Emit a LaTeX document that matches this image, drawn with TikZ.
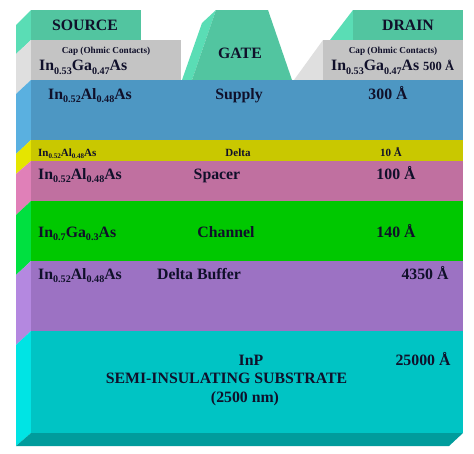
\documentclass[tikz,border=0pt]{standalone}
\usepackage{fontspec}
\setmainfont{Liberation Serif}
\usetikzlibrary{positioning}
\definecolor{metalF}{HTML}{52C5A0}
\definecolor{metalS}{HTML}{5ADDB5}
\definecolor{capF}{HTML}{C4C4C4}
\definecolor{capS}{HTML}{DFDFDF}
\definecolor{supplyF}{HTML}{4D97C3}
\definecolor{supplyS}{HTML}{5AB0E0}
\definecolor{deltaF}{HTML}{C9C800}
\definecolor{deltaS}{HTML}{E5E500}
\definecolor{spacerF}{HTML}{C070A0}
\definecolor{spacerS}{HTML}{E080B8}
\definecolor{channelF}{HTML}{00C800}
\definecolor{channelS}{HTML}{00E040}
\definecolor{bufferF}{HTML}{9C72C3}
\definecolor{bufferS}{HTML}{B488E0}
\definecolor{substrateF}{HTML}{00C4C4}
\definecolor{substrateS}{HTML}{00E4E4}
\definecolor{substrateB}{HTML}{009C9C}
\definecolor{inkc}{HTML}{10102A}
\newcommand{\mol}[1]{\raisebox{-0.22em}{\scalebox{0.64}{#1}}}
\tikzset{
  lbl/.style={text=inkc,font=\bfseries\fontsize{15.8}{18}\selectfont,inner sep=0pt,anchor=base},
  lblsmall/.style={lbl,font=\bfseries\fontsize{11}{12}\selectfont},
  lbltiny/.style={lbl,font=\bfseries\fontsize{9.2}{10}\selectfont},
}
\begin{document}
\begin{tikzpicture}[x=1pt,y=-1pt]
  \useasboundingbox (0,0) rectangle (474,453);
  % contacts
  \fill[metalS] (16,25) -- (31,10) -- (31,40) -- (16,54) -- cycle;
  \fill[metalF] (31,10) rectangle (141,40);
  \fill[metalS] (182,80) -- (202,23) -- (216,10) -- (192,80) -- cycle;
  \fill[metalF] (216,10) -- (268,10) -- (292,80) -- (192,80) -- cycle;
  \fill[metalS] (330,40) -- (353,10) -- (353,40) -- cycle;
  \fill[metalF] (353,10) rectangle (463,40);
  % caps
  \fill[capS] (16,54) -- (31,40) -- (31,80) -- (16,94) -- cycle;
  \fill[capF] (31,40) rectangle (181,80);
  \fill[capS] (294,80) -- (323,40) -- (323,80) -- cycle;
  \fill[capF] (323,40) rectangle (463,80);
  % layers
  \fill[supplyS] (16,94) -- (31,80) -- (31,140) -- (16,154) -- cycle;
  \fill[supplyF] (31,80) rectangle (463,140);
  \fill[deltaS] (16,154) -- (31,140) -- (31,161) -- (16,174) -- cycle;
  \fill[deltaF] (31,140) rectangle (463,161);
  \fill[spacerS] (16,174) -- (31,161) -- (31,201) -- (16,215) -- cycle;
  \fill[spacerF] (31,161) rectangle (463,201);
  \fill[channelS] (16,215) -- (31,201) -- (31,261) -- (16,275) -- cycle;
  \fill[channelF] (31,201) rectangle (463,261);
  \fill[bufferS] (16,275) -- (31,261) -- (31,331) -- (16,345) -- cycle;
  \fill[bufferF] (31,261) rectangle (463,331);
  \fill[substrateS] (16,345) -- (31,331) -- (31,433) -- (16,446) -- cycle;
  \fill[substrateF] (31,331) rectangle (463,433);
  \fill[substrateB] (16,446) -- (31,433) -- (463,433) -- (449,446) -- cycle;
  % labels
  \node[lbl] (source) at (85,30.3) {SOURCE};
  \node[lbl] (gate) at (240,58.7) {GATE};
  \node[lbl] (drain) at (408,30.3) {DRAIN};
  \node[lbltiny] (capl) at (106,53.5) {Cap (Ohmic Contacts)};
  \node[lbl,anchor=base west] (capml) at (39,70.7) {In\mol{0.53}Ga\mol{0.47}As};
  \node[lbltiny] (capr) at (393,53.5) {Cap (Ohmic Contacts)};
  \node[lbl,anchor=base west] (capmr) at (331,70.7) {In\mol{0.53}Ga\mol{0.47}As \fontsize{12.5}{14}\selectfont 500 Å};
  \node[lbl,anchor=base west] (supm) at (48,99.3) {In\mol{0.52}Al\mol{0.48}As};
  \node[lbl] (sup) at (239,99.3) {Supply};
  \node[lbl] (supt) at (388,99.3) {300 Å};
  \node[lblsmall,anchor=base west] (delm) at (38,156) {In\mol{0.52}Al\mol{0.48}As};
  \node[lblsmall] (del) at (238,156) {Delta};
  \node[lblsmall] (delt) at (391,156) {10 Å};
  \node[lbl,anchor=base west] (spam) at (38,179.3) {In\mol{0.52}Al\mol{0.48}As};
  \node[lbl] (spa) at (217,179.3) {Spacer};
  \node[lbl] (spat) at (396,179.3) {100 Å};
  \node[lbl,anchor=base west] (chm) at (38,237.5) {In\mol{0.7}Ga\mol{0.3}As};
  \node[lbl] (ch) at (226,237.5) {Channel};
  \node[lbl] (cht) at (396,237.5) {140 Å};
  \node[lbl,anchor=base west] (bufm) at (38,279) {In\mol{0.52}Al\mol{0.48}As};
  \node[lbl] (buf) at (199,279) {Delta Buffer};
  \node[lbl] (buft) at (425,279) {4350 Å};
  \node[lbl] (inp) at (251,365) {InP};
  \node[lbl] (subt) at (423,365) {25000 Å};
  \node[lbl] (sub) at (226.5,383.7) {SEMI-INSULATING SUBSTRATE};
  \node[lbl] (subn) at (245,402) {(2500 nm)};
\end{tikzpicture}
\end{document}
